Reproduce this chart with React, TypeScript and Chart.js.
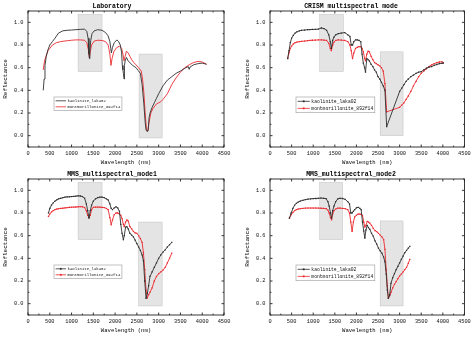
import React, { useEffect, useRef } from 'react';
import { Chart, registerables } from 'chart.js';

Chart.register(...registerables);

const FONT = '"Liberation Mono", "DejaVu Sans Mono", monospace';
const BLACK = '#2f2f2f';
const RED = '#ec2a2f';

const X_TICKS = [0, 500, 1000, 1500, 2000, 2500, 3000, 3500, 4000, 4500];
const Y_TICKS = [0, 0.2, 0.4, 0.6, 0.8, 1.0];
const SERIES_NAMES = ['kaolinite_laka02', 'montmorillonite_892f14'];
const TITLES = ['Laboratory', 'CRISM multispectral mode', 'MMS_multispectral_mode1', 'MMS_multispectral_mode2'];

// ---------- Laboratory ----------
const labKaoWl = [350, 370, 390, 420, 460, 500, 560, 620, 700, 800, 900, 1000, 1100, 1200, 1300, 1350, 1380, 1400, 1410, 1420, 1440, 1470, 1520, 1600, 1700, 1780, 1840, 1880, 1900, 1915, 1940, 1980, 2040, 2080, 2120, 2150, 2165, 2180, 2190, 2205, 2215, 2230, 2260, 2300, 2350, 2400, 2440, 2480, 2530, 2580, 2620, 2660, 2690, 2710, 2740, 2760, 2780, 2810, 2850, 2900, 2950, 3000, 3100, 3200, 3300, 3400, 3500, 3600, 3680, 3700, 3720, 3800, 3900, 4000, 4100];
const labKaoR = [0.40, 0.50, 0.62, 0.70, 0.76, 0.80, 0.83, 0.86, 0.905, 0.925, 0.93, 0.932, 0.935, 0.938, 0.94, 0.92, 0.86, 0.72, 0.68, 0.74, 0.84, 0.90, 0.925, 0.935, 0.93, 0.91, 0.88, 0.83, 0.77, 0.73, 0.78, 0.82, 0.845, 0.83, 0.80, 0.73, 0.62, 0.58, 0.55, 0.50, 0.62, 0.66, 0.69, 0.66, 0.64, 0.62, 0.61, 0.60, 0.575, 0.55, 0.45, 0.28, 0.12, 0.05, 0.035, 0.05, 0.16, 0.21, 0.25, 0.29, 0.33, 0.37, 0.44, 0.49, 0.52, 0.55, 0.57, 0.595, 0.61, 0.585, 0.605, 0.625, 0.635, 0.64, 0.63];
const labMontWl = [350, 380, 420, 460, 500, 560, 650, 750, 900, 1000, 1100, 1200, 1300, 1350, 1385, 1410, 1430, 1460, 1520, 1600, 1700, 1780, 1840, 1880, 1905, 1930, 1970, 2030, 2100, 2150, 2180, 2205, 2230, 2260, 2300, 2340, 2380, 2430, 2480, 2540, 2600, 2630, 2660, 2690, 2720, 2750, 2780, 2820, 2870, 2950, 3050, 3100, 3200, 3300, 3400, 3500, 3600, 3700, 3800, 3900, 4000, 4100];
const labMontR = [0.58, 0.66, 0.71, 0.75, 0.77, 0.80, 0.82, 0.83, 0.838, 0.842, 0.845, 0.845, 0.842, 0.82, 0.76, 0.69, 0.74, 0.80, 0.835, 0.842, 0.84, 0.83, 0.80, 0.72, 0.62, 0.68, 0.74, 0.775, 0.79, 0.77, 0.72, 0.66, 0.70, 0.745, 0.73, 0.70, 0.67, 0.645, 0.625, 0.60, 0.57, 0.50, 0.38, 0.20, 0.06, 0.04, 0.12, 0.20, 0.24, 0.28, 0.30, 0.32, 0.37, 0.45, 0.51, 0.56, 0.60, 0.625, 0.645, 0.655, 0.65, 0.63];
const labBands = [[1150, 1700, 0.565, 1.07], [2550, 3080, -0.02, 0.72]];

// ---------- CRISM multispectral ----------
const crismWl = [410, 440, 470, 500, 540, 580, 620, 680, 730, 800, 870, 920, 980, 1050, 1120, 1190, 1250, 1310, 1360, 1395, 1420, 1450, 1480, 1520, 1580, 1650, 1730, 1800, 1850, 1880, 1910, 1940, 1980, 2020, 2060, 2100, 2130, 2160, 2190, 2210, 2240, 2270, 2300, 2340, 2380, 2420, 2460, 2500, 2540, 2580, 2620, 2660, 2700, 3000, 3050, 3100, 3150, 3200, 3260, 3320, 3380, 3440, 3500, 3560, 3620, 3680, 3740, 3800, 3860, 3920, 3980, 4010];
const crismKaoR = [0.68, 0.75, 0.82, 0.86, 0.885, 0.905, 0.915, 0.925, 0.93, 0.932, 0.935, 0.936, 0.937, 0.938, 0.94, 0.95, 0.945, 0.93, 0.89, 0.83, 0.77, 0.84, 0.87, 0.89, 0.90, 0.905, 0.91, 0.89, 0.875, 0.80, 0.80, 0.83, 0.845, 0.845, 0.84, 0.83, 0.72, 0.64, 0.60, 0.56, 0.68, 0.67, 0.66, 0.63, 0.61, 0.58, 0.56, 0.52, 0.50, 0.47, 0.44, 0.40, 0.08, 0.39, 0.42, 0.45, 0.48, 0.50, 0.52, 0.535, 0.55, 0.56, 0.565, 0.58, 0.595, 0.605, 0.61, 0.62, 0.628, 0.635, 0.638, 0.64];
const crismMontR = [0.685, 0.73, 0.77, 0.79, 0.81, 0.82, 0.825, 0.83, 0.832, 0.835, 0.838, 0.84, 0.842, 0.843, 0.845, 0.845, 0.843, 0.84, 0.815, 0.77, 0.75, 0.80, 0.825, 0.84, 0.845, 0.843, 0.84, 0.83, 0.80, 0.75, 0.68, 0.73, 0.77, 0.78, 0.785, 0.785, 0.77, 0.74, 0.68, 0.66, 0.72, 0.745, 0.74, 0.70, 0.67, 0.645, 0.635, 0.625, 0.615, 0.60, 0.57, 0.46, 0.21, 0.25, 0.27, 0.29, 0.32, 0.35, 0.39, 0.44, 0.48, 0.52, 0.55, 0.57, 0.59, 0.61, 0.625, 0.635, 0.645, 0.65, 0.652, 0.645];
const crismBands = [[1150, 1700, 0.565, 1.07], [2550, 3080, 0.0, 0.74]];

// ---------- MMS multispectral mode1 ----------
const mms1Wl = [470, 500, 540, 580, 620, 660, 700, 750, 800, 850, 900, 950, 1000, 1050, 1100, 1150, 1200, 1250, 1300, 1340, 1370, 1400, 1430, 1460, 1500, 1550, 1600, 1650, 1700, 1750, 1800, 1840, 1880, 1910, 1940, 1980, 2020, 2060, 2100, 2130, 2160, 2190, 2210, 2240, 2270, 2300, 2340, 2380, 2420, 2460, 2500, 2540, 2580, 2620, 2650, 2680, 2710, 2740, 2770, 2800, 2850, 2900, 2950, 3000, 3050, 3100, 3150, 3200, 3250, 3300];
const mms1KaoR = [0.80, 0.84, 0.87, 0.89, 0.905, 0.915, 0.925, 0.93, 0.935, 0.94, 0.942, 0.943, 0.945, 0.946, 0.948, 0.952, 0.95, 0.945, 0.93, 0.88, 0.82, 0.755, 0.82, 0.87, 0.905, 0.925, 0.935, 0.94, 0.94, 0.935, 0.925, 0.915, 0.88, 0.84, 0.83, 0.845, 0.855, 0.845, 0.815, 0.70, 0.62, 0.564, 0.60, 0.675, 0.68, 0.66, 0.62, 0.605, 0.59, 0.56, 0.53, 0.50, 0.47, 0.43, 0.38, 0.20, 0.047, 0.09, 0.16, 0.24, 0.28, 0.32, 0.36, 0.40, 0.43, 0.455, 0.475, 0.50, 0.52, 0.54];
const mms1MontR = [0.77, 0.79, 0.81, 0.82, 0.83, 0.835, 0.838, 0.84, 0.842, 0.845, 0.847, 0.85, 0.851, 0.852, 0.853, 0.855, 0.856, 0.855, 0.848, 0.82, 0.78, 0.76, 0.78, 0.83, 0.85, 0.852, 0.852, 0.851, 0.85, 0.848, 0.84, 0.83, 0.76, 0.696, 0.74, 0.785, 0.80, 0.80, 0.79, 0.78, 0.75, 0.70, 0.68, 0.72, 0.74, 0.73, 0.68, 0.66, 0.637, 0.625, 0.62, 0.60, 0.575, 0.54, 0.45, 0.30, 0.12, 0.05, 0.08, 0.10, 0.14, 0.20, 0.24, 0.265, 0.28, 0.295, 0.32, 0.36, 0.40, 0.445];
const mms1Bands = [[1150, 1700, 0.565, 1.07], [2540, 3080, -0.02, 0.72]];

// ---------- MMS multispectral mode2 ----------
const mms2Wl = [450, 490, 530, 570, 610, 650, 700, 760, 820, 880, 940, 1000, 1060, 1120, 1180, 1240, 1300, 1340, 1370, 1400, 1425, 1450, 1480, 1520, 1570, 1620, 1680, 1740, 1800, 1840, 1870, 1900, 1930, 1960, 2000, 2040, 2080, 2110, 2140, 2170, 2195, 2220, 2250, 2280, 2310, 2350, 2390, 2430, 2470, 2510, 2550, 2590, 2630, 2660, 2690, 2715, 2740, 2770, 2800, 2840, 2880, 2920, 2960, 3000, 3040, 3080, 3120, 3160, 3200, 3235];
const mms2KaoR = [0.755, 0.80, 0.84, 0.87, 0.885, 0.895, 0.905, 0.912, 0.918, 0.922, 0.925, 0.927, 0.928, 0.93, 0.932, 0.93, 0.926, 0.90, 0.86, 0.80, 0.755, 0.82, 0.86, 0.90, 0.925, 0.93, 0.928, 0.92, 0.90, 0.88, 0.80, 0.80, 0.815, 0.83, 0.845, 0.85, 0.84, 0.83, 0.72, 0.64, 0.578, 0.65, 0.69, 0.67, 0.655, 0.62, 0.595, 0.555, 0.525, 0.49, 0.465, 0.445, 0.41, 0.37, 0.26, 0.12, 0.047, 0.077, 0.18, 0.23, 0.265, 0.30, 0.33, 0.36, 0.39, 0.42, 0.45, 0.47, 0.49, 0.505];
const mms2MontR = [0.755, 0.785, 0.805, 0.82, 0.83, 0.835, 0.838, 0.84, 0.843, 0.844, 0.844, 0.844, 0.844, 0.843, 0.842, 0.84, 0.838, 0.825, 0.80, 0.76, 0.74, 0.79, 0.82, 0.835, 0.843, 0.843, 0.84, 0.838, 0.83, 0.80, 0.72, 0.637, 0.72, 0.765, 0.78, 0.79, 0.79, 0.788, 0.78, 0.72, 0.675, 0.69, 0.726, 0.72, 0.71, 0.69, 0.665, 0.645, 0.635, 0.62, 0.605, 0.59, 0.565, 0.48, 0.30, 0.16, 0.047, 0.07, 0.10, 0.14, 0.17, 0.195, 0.22, 0.245, 0.26, 0.28, 0.30, 0.32, 0.355, 0.39];
const mms2Bands = [[1150, 1680, 0.565, 1.07], [2550, 3080, -0.02, 0.73]];

type PanelDef = {
  title: string;
  left: number;
  top: number;
  yAxisW: number;
  padRight: number;
  yTitlePad: number;
  kWl: number[];
  kR: number[];
  mWl: number[];
  mR: number[];
  markers: boolean;
  bands: number[][];
  legendFont: number;
};

const PANELS: PanelDef[] = [
  { title: TITLES[0], left: 0, top: 0, yAxisW: 28, padRight: 13, yTitlePad: 1.4, kWl: labKaoWl, kR: labKaoR, mWl: labMontWl, mR: labMontR, markers: false, bands: labBands, legendFont: 4 },
  { title: TITLES[1], left: 237, top: 0, yAxisW: 33, padRight: 9, yTitlePad: 6.4, kWl: crismWl, kR: crismKaoR, mWl: crismWl, mR: crismMontR, markers: true, bands: crismBands, legendFont: 4.7 },
  { title: TITLES[2], left: 0, top: 168, yAxisW: 28, padRight: 13, yTitlePad: 1.4, kWl: mms1Wl, kR: mms1KaoR, mWl: mms1Wl, mR: mms1MontR, markers: true, bands: mms1Bands, legendFont: 4 },
  { title: TITLES[3], left: 237, top: 168, yAxisW: 33, padRight: 9, yTitlePad: 6.4, kWl: mms2Wl, kR: mms2KaoR, mWl: mms2Wl, mR: mms2MontR, markers: true, bands: mms2Bands, legendFont: 4.7 },
];

function PanelChart({ p }: { p: PanelDef }) {
  const ref = useRef<HTMLCanvasElement>(null);
  useEffect(() => {
    if (!ref.current) return;
    const decor = {
      id: 'decor',
      beforeDatasetsDraw(chart: any) {
        const { ctx, scales } = chart;
        const xs = scales.x;
        const ys = scales.y;
        ctx.save();
        for (const b of p.bands) {
          const x1 = xs.getPixelForValue(b[0]);
          const x2 = xs.getPixelForValue(b[1]);
          const y1 = ys.getPixelForValue(b[3]);
          const y2 = ys.getPixelForValue(b[2]);
          ctx.fillStyle = 'rgba(205,205,205,0.55)';
          ctx.fillRect(x1, y1, x2 - x1, y2 - y1);
          ctx.strokeStyle = 'rgba(175,175,175,0.7)';
          ctx.lineWidth = 0.5;
          ctx.strokeRect(x1, y1, x2 - x1, y2 - y1);
        }
        ctx.restore();
      },
      afterDatasetsDraw(chart: any) {
        const { ctx, chartArea: a, scales } = chart;
        const xs = scales.x;
        const ys = scales.y;
        ctx.save();
        ctx.strokeStyle = '#222';
        ctx.lineWidth = 0.9;
        ctx.strokeRect(a.left, a.top, a.right - a.left, a.bottom - a.top);
        ctx.beginPath();
        for (let v = 0; v <= 4500; v += 250) {
          const px = xs.getPixelForValue(v);
          const len = v % 500 === 0 ? 2.5 : 1.4;
          ctx.moveTo(px, a.bottom);
          ctx.lineTo(px, a.bottom - len);
          ctx.moveTo(px, a.top);
          ctx.lineTo(px, a.top + len);
        }
        for (let i = -1; i <= 11; i++) {
          const v = i / 10;
          const py = ys.getPixelForValue(v);
          const len = i % 2 === 0 ? 2.5 : 1.4;
          ctx.moveTo(a.left, py);
          ctx.lineTo(a.left + len, py);
          ctx.moveTo(a.right, py);
          ctx.lineTo(a.right - len, py);
        }
        ctx.stroke();

        // legend
        const fs = p.legendFont;
        ctx.font = `${fs}px ${FONT}`;
        const names = chart.data.datasets.map((d: any) => d.label as string);
        const tw = Math.max(...names.map((n: string) => ctx.measureText(n).width));
        const sample = fs * 2.6;
        const pad = 1.6;
        const rowH = fs * 1.5;
        const bx = a.left + 26;
        const by = a.top + 86;
        const bw = pad + sample + 1.5 + tw + pad;
        const bh = rowH * 2 + 1.6;
        ctx.fillStyle = '#fff';
        ctx.fillRect(bx, by, bw, bh);
        ctx.strokeStyle = '#999';
        ctx.lineWidth = 0.6;
        ctx.strokeRect(bx, by, bw, bh);
        chart.data.datasets.forEach((d: any, i: number) => {
          const cy = by + 0.8 + rowH * (i + 0.5);
          ctx.strokeStyle = d.borderColor;
          ctx.lineWidth = 0.8;
          ctx.beginPath();
          ctx.moveTo(bx + pad, cy);
          ctx.lineTo(bx + pad + sample, cy);
          ctx.stroke();
          if (p.markers) {
            ctx.fillStyle = d.borderColor;
            ctx.fillRect(bx + pad + sample / 2 - 0.9, cy - 0.9, 1.8, 1.8);
          }
          ctx.fillStyle = '#111';
          ctx.textBaseline = 'middle';
          ctx.textAlign = 'left';
          ctx.fillText(d.label, bx + pad + sample + 1.5, cy);
        });
        ctx.restore();
      },
    };

    const mk = (wl: number[], r: number[]) => wl.map((x, i) => ({ x, y: r[i] }));
    const chart = new Chart(ref.current, {
      type: 'line',
      data: {
        datasets: [
          {
            label: SERIES_NAMES[0],
            data: mk(p.kWl, p.kR),
            borderColor: BLACK,
            backgroundColor: BLACK,
            borderWidth: 0.9,
            pointRadius: p.markers ? 0.9 : 0,
            pointStyle: 'rect',
            pointBorderWidth: 0,
            tension: 0,
            fill: false,
          },
          {
            label: SERIES_NAMES[1],
            data: mk(p.mWl, p.mR),
            borderColor: RED,
            backgroundColor: RED,
            borderWidth: 0.9,
            pointRadius: p.markers ? 0.9 : 0,
            pointStyle: 'rect',
            pointBorderWidth: 0,
            tension: 0,
            fill: false,
          },
        ],
      },
      options: {
        responsive: false,
        animation: false,
        events: [],
        layout: { padding: { left: 0, right: p.padRight, top: 0, bottom: 0 } },
        plugins: {
          legend: { display: false },
          tooltip: { enabled: false },
          title: {
            display: true,
            text: p.title,
            color: '#000',
            font: { family: FONT, size: 6.5, weight: 'bold' },
            padding: { top: 2, bottom: 1.2 },
          },
        },
        scales: {
          x: {
            type: 'linear',
            min: 0,
            max: 4500,
            afterBuildTicks: (s: any) => {
              s.ticks = X_TICKS.map((v) => ({ value: v }));
            },
            afterFit: (s: any) => {
              s.height = 21;
            },
            ticks: {
              autoSkip: false,
              maxRotation: 0,
              padding: 3.2,
              color: '#111',
              font: { family: FONT, size: 5.3 },
              callback: (v: any) => String(v),
            },
            grid: { display: false, drawTicks: false },
            border: { display: false },
            title: {
              display: true,
              text: 'Wavelength (nm)',
              color: '#000',
              font: { family: FONT, size: 5.6 },
              padding: { top: 0, bottom: 2 },
            },
          },
          y: {
            type: 'linear',
            min: -0.1,
            max: 1.1,
            afterBuildTicks: (s: any) => {
              s.ticks = Y_TICKS.map((v) => ({ value: v }));
            },
            afterFit: (s: any) => {
              s.width = p.yAxisW;
            },
            ticks: {
              padding: 4.5,
              color: '#111',
              font: { family: FONT, size: 5.3 },
              callback: (v: any) => Number(v).toFixed(1),
            },
            grid: { display: false, drawTicks: false },
            border: { display: false },
            title: {
              display: true,
              text: 'Reflectance',
              color: '#000',
              font: { family: FONT, size: 6 },
              padding: { top: p.yTitlePad, bottom: 0 },
            },
          },
        },
      },
      plugins: [decor],
    } as any);
    return () => chart.destroy();
  }, [p]);
  return (
    <canvas
      ref={ref}
      width={237}
      height={168}
      style={{ position: 'absolute', left: p.left, top: p.top, width: 237, height: 168 }}
    />
  );
}

export default function App() {
  return (
    <div style={{ position: 'absolute', left: 0, top: 0, width: 474, height: 337, background: '#fff', overflow: 'hidden' }}>
      {PANELS.map((p, i) => (
        <PanelChart key={i} p={p} />
      ))}
    </div>
  );
}
